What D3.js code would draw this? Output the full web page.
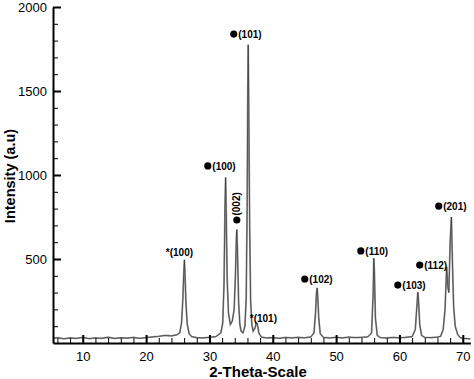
<!DOCTYPE html>
<html lang="en">
<head>
	<title>XRD</title>
	<script src="https://d3js.org/d3.v7.min.js" charset="utf-8"></script>
	<style>
		body { margin: 0; background: #fff; }
		text { font-family: "Liberation Sans", Arial, sans-serif; }
	</style>
</head>
<body>
	<script>

	// trace (2-theta, intensity)
	var twoTheta = [5.3, 6, 7, 8, 9, 10, 11, 12, 13, 14, 15, 16, 17, 18, 19, 20, 21, 22, 23, 24, 24.8,
		25.3, 25.6, 25.8, 25.95, 26.05, 26.15, 26.3, 26.5, 26.8, 27.2, 28, 29, 30, 31, 31.8,
		32.1, 32.3, 32.45, 32.55, 32.65, 32.8, 33.0, 33.3, 33.6, 33.9, 34.1, 34.25, 34.32, 34.42, 34.6, 34.8,
		35.0, 35.3, 35.6, 35.8, 35.95, 36.05, 36.12, 36.2, 36.35, 36.5, 36.7, 36.9, 37.2, 37.4, 37.55, 37.8,
		38.2, 39, 40, 41, 42, 43, 44, 45, 46, 46.5, 46.75, 46.9, 47.0, 47.1, 47.25, 47.5, 48, 49, 50, 51, 52,
		53, 54, 55, 55.6, 55.85, 55.95, 56.05, 56.2, 56.5, 57, 58, 59, 60, 61, 62, 62.5, 62.75, 62.9, 63.0,
		63.2, 63.5, 64, 65, 66, 66.5, 66.9, 67.2, 67.45, 67.65, 67.8, 68.0, 68.2, 68.35, 68.55, 68.8, 69.2,
		69.6, 70, 71.2];
	var intensity = [28, 32, 25, 30, 27, 33, 26, 30, 28, 34, 27, 31, 29, 33, 28, 32, 36, 40, 45, 42, 48,
		60, 120, 260, 420, 495, 400, 230, 110, 55, 38, 32, 30, 34, 38, 60,
		120, 350, 800, 985, 780, 380, 180, 110, 130, 200, 400, 620, 675, 560, 250, 110,
		70, 60, 100, 260, 800, 1500, 1775, 1450, 700, 250, 110, 70, 90, 120, 115, 60,
		35, 30, 32, 28, 33, 30, 34, 31, 36, 60, 180, 300, 328, 280, 150, 55, 33, 30, 34, 30, 35,
		32, 34, 36, 60, 300, 505, 420, 150, 45, 32, 30, 33, 31, 34, 38, 80, 220, 303, 260,
		110, 45, 33, 32, 35, 40, 80, 200, 455, 330, 300, 600, 750, 500, 220, 100, 50,
		32, 28, 25];

	// peak labels
	var labelText = ["(101)", "(100)", "(002)", "(100)", "(101)", "(102)", "(110)", "(103)", "(112)", "(201)"];
	var labelMark = ["dot", "dot", "dot", "star", "star", "dot", "dot", "dot", "dot", "dot"];
	var labelX = [33.84, 29.74, 34.32, 23.58, 36.84, 45.05, 53.9, 59.74, 63.2, 66.2];
	var labelY = [1839, 1054, 732, 548, 155, 381, 548, 345, 464, 815];

	var xTicks = [10, 20, 30, 40, 50, 60, 70];
	var yTicks = [500, 1000, 1500, 2000];

	var width = 474,
		height = 379;

	var x = d3.scaleLinear().domain([5.3, 71.2]).range([53, 470.4]);
	var y = d3.scaleLinear().domain([0, 2000]).range([343, 7]);

	var svg = d3.select("body").append("svg")
		.attr("width", width)
		.attr("height", height);

	// trace
	var pts = twoTheta.map(function(t, i) { return [t, intensity[i]]; });
	var line = d3.line()
		.x(function(d) { return x(d[0]); })
		.y(function(d) { return y(d[1]); });

	svg.append("path")
		.datum(pts)
		.attr("d", line)
		.attr("fill", "none")
		.attr("stroke", "#999")
		.attr("stroke-width", 1.8);
	svg.append("path")
		.datum(pts)
		.attr("d", line)
		.attr("fill", "none")
		.attr("stroke", "#333")
		.attr("stroke-width", 0.7);

	// minor ticks
	svg.append("g")
		.attr("transform", "translate(0,343)")
		.call(d3.axisBottom(x).tickValues(d3.range(6, 71, 2)).tickSize(-5).tickFormat(""))
		.call(function(g) { g.select(".domain").remove(); g.selectAll("line").attr("stroke-width", 1); });
	svg.append("g")
		.attr("transform", "translate(53,0)")
		.call(d3.axisLeft(y).tickValues(d3.range(100, 2000, 100)).tickSize(-5).tickFormat(""))
		.call(function(g) { g.select(".domain").remove(); g.selectAll("line").attr("stroke-width", 1); });

	// major axes
	var xAxis = svg.append("g")
		.attr("transform", "translate(0,343)")
		.call(d3.axisBottom(x).tickValues(xTicks).tickSize(-8).tickSizeOuter(0).tickPadding(5).tickFormat(d3.format("d")));
	var yAxis = svg.append("g")
		.attr("transform", "translate(53,0)")
		.call(d3.axisLeft(y).tickValues(yTicks).tickSize(-8).tickSizeOuter(0).tickPadding(6).tickFormat(d3.format("d")));

	[xAxis, yAxis].forEach(function(g) {
		g.select(".domain").attr("stroke-width", 2);
		g.selectAll("line").attr("stroke-width", 2);
		g.selectAll("text").attr("font-size", 13).attr("font-family", "Liberation Sans, Arial, sans-serif");
	});
	xAxis.selectAll("text").attr("dy", "1em");

	// titles
	svg.append("text")
		.attr("x", 258).attr("y", 377)
		.attr("text-anchor", "middle")
		.attr("font-size", 15).attr("font-weight", "bold")
		.text("2-Theta-Scale");
	svg.append("text")
		.attr("transform", "translate(15,176) rotate(-90)")
		.attr("text-anchor", "middle")
		.attr("font-size", 14.5).attr("font-weight", "bold")
		.text("Intensity (a.u)");

	// peak labels
	labelText.forEach(function(t, i) {
		var px = x(labelX[i]), py = y(labelY[i]);
		var g = svg.append("g").attr("transform", "translate(" + px + "," + py + ")");
		if (t === "(002)" ) g.attr("transform", "translate(" + px + "," + py + ") rotate(-90)");
		if (labelMark[i] === "dot") {
			g.append("circle").attr("r", 3.6).attr("fill", "#000");
			g.append("text").attr("x", 4.5).attr("y", 3.6)
				.attr("font-size", 10).attr("font-weight", "bold").text(t);
		} else {
			g.append("text").attr("x", -3).attr("y", 5)
				.attr("font-size", 10).attr("font-weight", "bold").text("*" + t);
		}
	});

	</script>
</body>
</html>
